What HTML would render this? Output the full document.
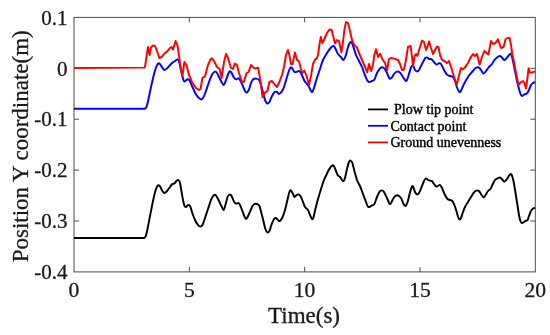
<!DOCTYPE html>
<html><head><meta charset="utf-8"><title>Plot</title>
<style>
html,body{margin:0;padding:0;background:#fff;}
svg{display:block;font-family:"Liberation Serif","Times New Roman",serif;}
</style></head><body>
<svg width="550" height="335" viewBox="0 0 550 335">
<rect width="550" height="335" fill="#fff"/>
<g stroke="#4d4d4d" stroke-width="1" fill="none">
<rect x="74.0" y="17.4" width="461.29999999999995" height="254.49999999999997"/>
<line x1="189.32" y1="271.9" x2="189.32" y2="266.9"/><line x1="189.32" y1="17.4" x2="189.32" y2="22.4"/><line x1="304.65" y1="271.9" x2="304.65" y2="266.9"/><line x1="304.65" y1="17.4" x2="304.65" y2="22.4"/><line x1="419.97" y1="271.9" x2="419.97" y2="266.9"/><line x1="419.97" y1="17.4" x2="419.97" y2="22.4"/><line x1="74.0" y1="68.30" x2="79.0" y2="68.30"/><line x1="535.3" y1="68.30" x2="530.3" y2="68.30"/><line x1="74.0" y1="119.20" x2="79.0" y2="119.20"/><line x1="535.3" y1="119.20" x2="530.3" y2="119.20"/><line x1="74.0" y1="170.10" x2="79.0" y2="170.10"/><line x1="535.3" y1="170.10" x2="530.3" y2="170.10"/><line x1="74.0" y1="221.00" x2="79.0" y2="221.00"/><line x1="535.3" y1="221.00" x2="530.3" y2="221.00"/>
</g>
<g fill="none" stroke-width="1.95" stroke-linejoin="round" stroke-linecap="butt">
<path stroke="#000" d="M74.0,238.0L144.2,238.0C144.4,237.8 145.0,237.6 145.4,236.8C145.8,236.1 146.2,234.7 146.5,233.5C146.8,232.3 146.8,232.2 147.4,229.5C148.0,226.8 148.9,221.4 149.8,217.0C150.7,212.6 151.7,207.3 152.6,203.0C153.5,198.7 154.6,193.8 155.4,191.0C156.2,188.2 156.8,186.9 157.4,186.0C158.0,185.1 158.5,185.1 159.0,185.3C159.5,185.5 159.8,186.1 160.4,187.0C161.0,187.9 161.7,190.0 162.4,191.0C163.1,192.0 163.6,193.0 164.4,193.0C165.2,193.0 166.1,192.0 167.0,191.0C167.9,190.0 169.1,188.2 170.0,187.0C170.9,185.8 171.7,184.6 172.4,184.0C173.1,183.4 173.7,183.9 174.4,183.4C175.1,182.9 175.7,181.6 176.4,181.0C177.1,180.4 177.8,179.7 178.4,180.0C179.0,180.3 179.5,181.0 180.0,183.0C180.5,185.0 181.1,189.2 181.6,192.0C182.1,194.8 182.5,197.7 183.0,200.0C183.5,202.3 183.9,204.4 184.4,205.6C184.9,206.8 185.4,207.1 186.0,207.0C186.6,206.9 187.3,205.2 188.0,205.0C188.7,204.8 189.3,204.8 190.0,206.0C190.7,207.2 191.2,209.7 192.0,212.0C192.8,214.3 194.0,217.8 195.0,220.0C196.0,222.2 197.1,223.9 198.0,225.0C198.9,226.1 199.9,226.6 200.6,226.6C201.3,226.6 201.7,226.4 202.4,225.0C203.1,223.6 204.1,220.7 205.0,218.0C205.9,215.3 207.0,212.0 208.0,209.0C209.0,206.0 210.1,202.3 211.0,200.0C211.9,197.7 212.8,196.2 213.6,195.4C214.4,194.6 214.9,194.4 215.6,195.0C216.3,195.6 217.1,197.3 218.0,199.0C218.9,200.7 220.1,203.2 221.0,205.0C221.9,206.8 222.9,210.0 223.6,210.0C224.3,210.0 224.7,207.2 225.4,205.0C226.1,202.8 226.9,198.7 227.6,197.0C228.3,195.3 228.9,194.8 229.6,194.6C230.3,194.4 230.9,194.8 231.6,196.0C232.3,197.2 233.3,200.3 234.0,201.6C234.7,202.9 235.3,203.4 236.0,203.6C236.7,203.8 237.7,202.8 238.4,203.0C239.1,203.2 239.3,203.7 240.0,205.0C240.7,206.3 241.6,208.9 242.4,211.0C243.2,213.1 244.3,216.3 245.0,217.6C245.7,218.9 245.9,219.2 246.6,218.6C247.3,218.0 248.1,215.9 249.0,214.0C249.9,212.1 251.1,208.7 252.0,207.0C252.9,205.3 253.8,204.5 254.6,204.0C255.4,203.5 256.2,203.7 257.0,204.0C257.8,204.3 258.7,204.5 259.4,206.0C260.1,207.5 260.7,210.5 261.4,213.0C262.1,215.5 262.7,218.3 263.4,221.0C264.1,223.7 264.7,227.1 265.4,229.0C266.1,230.9 266.7,232.1 267.4,232.4C268.1,232.7 268.7,232.2 269.4,231.0C270.1,229.8 270.6,227.0 271.4,225.0C272.2,223.0 273.2,220.2 274.0,219.0C274.8,217.8 275.3,217.8 276.0,218.0C276.7,218.2 277.3,219.5 278.0,220.0C278.7,220.5 279.2,221.5 280.0,221.0C280.8,220.5 281.8,218.8 282.6,217.0C283.4,215.2 284.2,212.8 285.0,210.0C285.8,207.2 286.7,203.0 287.4,200.0C288.1,197.0 288.8,193.6 289.4,192.0C290.0,190.4 290.4,190.1 291.0,190.4C291.6,190.7 292.4,192.9 293.0,194.0C293.6,195.1 294.0,196.8 294.6,197.0C295.2,197.2 295.9,195.4 296.6,195.0C297.3,194.6 298.3,194.3 299.0,194.6C299.7,194.9 300.3,195.8 301.0,197.0C301.7,198.2 302.3,200.3 303.0,202.0C303.7,203.7 304.2,205.7 305.0,207.0C305.8,208.3 307.2,208.7 308.0,210.0C308.8,211.3 309.3,213.5 310.0,215.0C310.7,216.5 311.4,218.6 312.0,219.0C312.6,219.4 312.8,219.3 313.4,217.6C314.0,215.9 314.6,212.1 315.4,209.0C316.2,205.9 317.1,202.3 318.0,199.0C318.9,195.7 320.0,192.2 321.0,189.0C322.0,185.8 323.0,182.6 324.0,180.0C325.0,177.4 326.2,175.3 327.0,173.6C327.8,171.9 328.2,170.9 329.0,169.6C329.8,168.3 330.8,166.7 331.6,166.0C332.4,165.3 332.9,164.9 333.6,165.6C334.3,166.3 334.9,168.4 335.6,170.0C336.3,171.6 336.9,173.8 337.6,175.0C338.3,176.2 339.3,176.2 340.0,177.0C340.7,177.8 341.4,179.3 342.0,180.0C342.6,180.7 343.1,181.3 343.6,181.0C344.1,180.7 344.4,180.0 345.0,178.0C345.6,176.0 346.3,171.7 347.0,169.0C347.7,166.3 348.4,163.4 349.0,162.0C349.6,160.6 350.0,160.4 350.6,160.6C351.2,160.8 351.8,161.3 352.4,163.0C353.0,164.7 353.6,168.2 354.4,171.0C355.2,173.8 356.1,177.5 357.0,180.0C357.9,182.5 359.0,183.7 360.0,186.0C361.0,188.3 362.0,191.3 363.0,194.0C364.0,196.7 365.2,199.9 366.0,202.0C366.8,204.1 367.4,205.8 368.0,206.6C368.6,207.4 368.9,207.2 369.6,207.0C370.3,206.8 371.2,205.9 372.0,205.4C372.8,204.9 373.6,205.4 374.4,204.0C375.2,202.6 376.1,199.1 377.0,197.0C377.9,194.9 378.8,192.7 379.6,191.6C380.4,190.5 381.3,190.3 382.0,190.4C382.7,190.5 383.2,190.7 384.0,192.0C384.8,193.3 386.1,196.1 387.0,198.0C387.9,199.9 388.7,202.8 389.4,203.6C390.1,204.4 390.3,203.9 391.0,203.0C391.7,202.1 392.8,199.2 393.6,198.0C394.4,196.8 395.2,196.0 396.0,195.6C396.8,195.2 397.6,195.2 398.4,195.6C399.2,196.0 400.1,196.6 401.0,198.0C401.9,199.4 402.8,202.7 403.6,204.0C404.4,205.3 404.9,206.3 405.6,206.0C406.3,205.7 406.9,204.0 407.6,202.0C408.3,200.0 408.9,196.4 409.6,194.0C410.3,191.6 411.0,188.7 411.6,187.4C412.2,186.1 412.4,185.6 413.0,186.4C413.6,187.2 414.3,190.7 415.0,192.0C415.7,193.3 416.3,194.2 417.0,194.4C417.7,194.6 418.2,194.2 419.0,193.0C419.8,191.8 420.8,189.0 421.6,187.0C422.4,185.0 423.3,182.4 424.0,181.0C424.7,179.6 425.3,178.6 426.0,178.4C426.7,178.2 427.3,179.6 428.0,180.0C428.7,180.4 429.3,180.4 430.0,180.6C430.7,180.8 431.3,180.4 432.0,181.0C432.7,181.6 433.3,183.1 434.0,184.0C434.7,184.9 435.7,186.3 436.4,186.6C437.1,186.9 437.8,185.9 438.4,185.6C439.0,185.3 439.4,184.6 440.0,185.0C440.6,185.4 441.2,186.3 442.0,188.0C442.8,189.7 444.1,193.2 445.0,195.0C445.9,196.8 446.8,198.2 447.6,199.0C448.4,199.8 449.2,199.7 450.0,200.0C450.8,200.3 451.7,200.2 452.4,201.0C453.1,201.8 453.7,203.3 454.4,205.0C455.1,206.7 455.7,208.8 456.4,211.0C457.1,213.2 457.9,216.6 458.4,218.0C458.9,219.4 459.2,219.4 459.6,219.4C460.0,219.4 460.4,219.2 461.0,218.0C461.6,216.8 462.3,213.8 463.0,212.0C463.7,210.2 464.2,208.7 465.0,207.0C465.8,205.3 467.0,203.7 468.0,202.0C469.0,200.3 470.0,198.6 471.0,197.0C472.0,195.4 473.1,193.5 474.0,192.4C474.9,191.3 475.6,190.8 476.4,190.6C477.2,190.4 478.2,190.4 479.0,191.0C479.8,191.6 480.2,192.9 481.0,194.0C481.8,195.1 482.8,197.2 483.6,197.4C484.4,197.6 484.9,196.1 485.6,195.0C486.3,193.9 487.2,192.0 488.0,191.0C488.8,190.0 489.7,190.0 490.4,189.0C491.1,188.0 491.6,186.5 492.4,185.0C493.2,183.5 494.1,181.1 495.0,180.0C495.9,178.9 496.8,178.8 497.6,178.4C498.4,178.0 499.3,177.3 500.0,177.4C500.7,177.5 501.3,178.5 502.0,179.2C502.7,179.9 503.6,181.6 504.4,181.6C505.2,181.6 506.1,180.1 507.0,179.0C507.9,177.9 508.9,175.8 509.6,175.0C510.3,174.2 510.8,173.7 511.4,174.4C512.0,175.1 512.5,177.1 513.0,179.0C513.5,180.9 513.9,183.2 514.4,186.0C514.9,188.8 515.5,192.7 516.0,196.0C516.5,199.3 517.1,202.8 517.6,206.0C518.1,209.2 518.5,212.5 519.0,215.0C519.5,217.5 519.9,219.7 520.4,221.0C520.9,222.3 521.4,222.8 522.0,223.0C522.6,223.2 523.3,222.4 524.0,222.0C524.7,221.6 525.4,220.9 526.0,220.6C526.6,220.3 527.1,220.8 527.6,220.0C528.1,219.2 528.4,217.5 529.0,216.0C529.6,214.5 530.3,212.2 531.0,211.0C531.7,209.8 532.3,209.2 533.0,208.6C533.7,208.0 534.7,207.8 535.0,207.6"/>
<path stroke="#0000ff" d="M74.0,108.8L145.0,108.8C145.2,108.5 146.0,108.0 146.4,107.0C146.8,106.0 146.9,105.8 147.6,103.0C148.3,100.2 149.4,94.7 150.4,90.0C151.4,85.3 152.8,79.0 153.8,75.0C154.8,71.0 155.8,68.0 156.6,66.0C157.4,64.0 158.1,63.4 158.8,63.2C159.5,63.0 159.9,64.1 160.6,65.0C161.3,65.9 162.2,67.6 162.8,68.4C163.4,69.2 163.7,70.0 164.4,70.0C165.1,70.0 165.7,69.6 167.0,68.4C168.3,67.2 170.7,64.2 172.0,63.0C173.3,61.8 174.1,61.6 175.0,61.0C175.9,60.4 176.7,59.3 177.4,59.4C178.1,59.5 178.4,59.7 179.0,61.5C179.6,63.3 180.3,67.2 181.0,70.0C181.7,72.8 182.4,76.6 183.0,78.5C183.6,80.4 183.7,81.5 184.4,81.6C185.1,81.7 186.6,79.4 187.4,79.2C188.2,79.0 188.7,79.3 189.5,80.4C190.3,81.5 191.1,84.0 192.0,86.0C192.9,88.0 194.0,90.6 195.0,92.5C196.0,94.4 197.0,96.0 198.0,97.2C199.0,98.4 200.2,99.3 201.0,99.4C201.8,99.5 202.2,99.2 203.0,98.0C203.8,96.8 204.6,94.7 205.6,92.0C206.6,89.3 207.9,85.0 209.0,82.0C210.1,79.0 211.4,75.7 212.4,74.0C213.4,72.3 214.2,71.8 215.0,71.6C215.8,71.4 216.2,71.8 217.0,73.0C217.8,74.2 218.9,77.0 220.0,79.0C221.1,81.0 222.6,84.8 223.6,85.0C224.6,85.2 225.1,82.1 226.0,80.0C226.9,77.9 228.2,73.5 229.0,72.2C229.8,70.9 230.2,71.2 231.0,72.0C231.8,72.8 232.8,75.8 233.6,77.0C234.4,78.2 235.1,79.2 236.0,79.4C236.9,79.6 238.0,77.6 239.0,78.4C240.0,79.2 241.0,81.9 242.0,84.0C243.0,86.1 244.2,89.6 245.0,91.0C245.8,92.4 246.1,92.8 246.8,92.6C247.5,92.3 248.3,91.1 249.0,89.5C249.7,87.9 250.3,84.7 251.0,83.0C251.7,81.3 252.2,80.3 253.0,79.6C253.8,78.9 255.0,78.5 256.0,78.6C257.0,78.7 258.1,78.8 259.0,80.0C259.9,81.2 260.7,83.7 261.4,86.0C262.1,88.3 262.7,91.5 263.4,94.0C264.1,96.5 264.7,99.4 265.4,101.0C266.1,102.6 266.9,103.4 267.6,103.6C268.3,103.8 268.7,103.3 269.4,102.0C270.1,100.7 271.1,97.7 272.0,96.0C272.9,94.3 273.8,92.7 274.6,92.0C275.4,91.3 276.3,91.7 277.0,92.0C277.7,92.3 278.3,94.0 279.0,94.0C279.7,94.0 280.6,93.2 281.4,92.0C282.2,90.8 283.1,89.5 284.0,87.0C284.9,84.5 286.2,79.8 287.0,77.0C287.8,74.2 288.4,72.1 289.0,70.5C289.6,68.9 290.1,67.8 290.6,67.4C291.1,67.0 291.3,67.2 292.0,68.0C292.7,68.8 293.8,71.4 294.6,72.0C295.4,72.6 296.3,71.8 297.0,71.6C297.7,71.4 298.3,70.8 299.0,71.0C299.7,71.2 300.2,71.5 301.0,73.0C301.8,74.5 303.2,78.3 304.0,80.0C304.8,81.7 305.2,82.0 306.0,83.0C306.8,84.0 307.8,84.7 308.6,86.0C309.4,87.3 310.4,90.0 311.0,91.0C311.6,92.0 311.9,92.3 312.4,91.8C312.9,91.3 313.3,90.1 314.0,88.0C314.7,85.9 315.6,82.2 316.6,79.0C317.6,75.8 318.9,72.2 320.0,69.0C321.1,65.8 321.8,62.7 323.0,60.0C324.2,57.3 325.7,55.1 327.0,53.0C328.3,50.9 329.9,48.7 331.0,47.5C332.1,46.3 332.8,45.8 333.6,46.0C334.4,46.2 334.9,47.7 335.6,49.0C336.3,50.3 337.1,52.7 338.0,54.0C338.9,55.3 340.1,56.0 341.0,57.0C341.9,58.0 342.6,60.2 343.4,60.0C344.2,59.8 344.8,58.2 345.6,56.0C346.4,53.8 347.3,49.2 348.0,47.0C348.7,44.8 349.4,43.4 350.0,42.6C350.6,41.8 351.1,41.7 351.6,42.2C352.1,42.7 352.3,43.5 353.0,45.6C353.7,47.7 355.0,52.4 356.0,55.0C357.0,57.6 358.0,59.0 359.0,61.0C360.0,63.0 361.1,64.8 362.0,67.0C362.9,69.2 363.7,71.8 364.5,74.0C365.3,76.2 366.2,78.7 367.0,80.0C367.8,81.3 368.2,81.8 369.0,82.0C369.8,82.2 371.1,81.4 372.0,81.0C372.9,80.6 373.6,80.8 374.4,79.5C375.2,78.2 376.1,74.8 377.0,73.0C377.9,71.2 379.2,69.4 380.0,68.4C380.8,67.4 381.2,67.2 382.0,67.2C382.8,67.2 383.8,67.6 384.6,68.6C385.4,69.6 386.2,71.4 387.0,73.0C387.8,74.6 388.7,77.6 389.4,78.4C390.1,79.2 390.6,78.7 391.4,78.0C392.2,77.3 393.1,75.1 394.0,74.0C394.9,72.9 396.0,71.8 397.0,71.6C398.0,71.4 399.0,71.7 400.0,72.6C401.0,73.5 402.1,75.7 403.0,77.0C403.9,78.3 404.7,80.1 405.4,80.6C406.1,81.1 406.4,81.1 407.0,80.0C407.6,78.9 408.3,76.1 409.0,74.0C409.7,71.9 410.3,68.9 411.0,67.5C411.7,66.1 412.3,65.0 413.0,65.4C413.7,65.8 414.3,69.0 415.0,70.0C415.7,71.0 416.3,71.4 417.0,71.4C417.7,71.4 418.2,71.2 419.0,70.0C419.8,68.8 421.0,65.9 422.0,64.0C423.0,62.1 424.2,59.5 425.0,58.4C425.8,57.3 426.3,57.3 427.0,57.4C427.7,57.5 428.3,58.7 429.0,59.0C429.7,59.3 430.6,58.7 431.4,59.2C432.2,59.7 433.1,61.1 434.0,62.0C434.9,62.9 435.8,64.4 436.6,64.6C437.4,64.8 438.3,63.3 439.0,63.2C439.7,63.1 440.2,62.9 441.0,64.0C441.8,65.1 443.0,68.2 444.0,70.0C445.0,71.8 446.0,73.6 447.0,74.6C448.0,75.6 449.0,75.6 450.0,76.0C451.0,76.4 452.2,76.2 453.0,77.0C453.8,77.8 454.3,79.2 455.0,81.0C455.7,82.8 456.3,85.7 457.0,87.5C457.7,89.3 458.7,91.5 459.4,92.0C460.1,92.5 460.2,91.9 461.0,90.6C461.8,89.3 462.8,86.3 464.0,84.0C465.2,81.7 466.7,79.0 468.0,77.0C469.3,75.0 470.7,73.5 472.0,72.0C473.3,70.5 474.4,68.7 475.6,68.0C476.8,67.3 478.0,67.1 479.0,67.6C480.0,68.1 480.8,70.0 481.6,71.0C482.4,72.0 482.9,73.6 483.6,73.6C484.3,73.6 485.1,72.1 486.0,71.0C486.9,69.9 488.0,68.2 489.0,67.0C490.0,65.8 491.1,65.2 492.0,64.0C492.9,62.8 493.6,61.1 494.4,60.0C495.2,58.9 496.1,58.1 497.0,57.4C497.9,56.7 499.1,55.9 500.0,56.0C500.9,56.1 501.7,57.3 502.4,58.0C503.1,58.7 503.6,60.1 504.4,60.0C505.2,59.9 506.1,58.6 507.0,57.6C507.9,56.6 509.3,54.4 510.0,54.0C510.7,53.6 510.9,53.8 511.4,55.0C511.9,56.2 512.4,58.3 513.0,61.0C513.6,63.7 514.3,67.7 515.0,71.0C515.7,74.3 516.3,78.0 517.0,81.0C517.7,84.0 518.4,86.8 519.0,89.0C519.6,91.2 520.1,92.8 520.6,94.0C521.1,95.2 521.4,95.9 522.0,96.0C522.6,96.1 523.2,95.0 524.0,94.6C524.8,94.2 526.2,94.2 527.0,93.4C527.8,92.6 528.3,91.4 529.0,90.0C529.7,88.6 530.3,86.2 531.0,85.0C531.7,83.8 532.3,83.5 533.0,83.0C533.7,82.5 534.7,82.2 535.0,82.0"/>
<polyline stroke="#ff0000" points="74.0,68.0 144.4,67.6 145.2,66.0 146.0,60.0 148.0,47.0 149.6,55.0 151.0,47.5 153.0,45.4 155.0,46.0 157.0,51.0 159.4,58.0 161.6,57.0 164.0,54.0 167.0,51.6 170.0,48.0 171.6,47.0 173.0,49.6 175.6,41.0 177.6,46.0 179.0,56.0 181.0,70.0 182.4,76.4 184.4,62.0 186.4,65.0 189.0,75.0 192.0,82.0 196.0,88.0 199.0,90.0 200.6,89.0 202.4,78.0 205.0,76.4 208.0,65.0 210.4,59.6 212.0,58.4 214.0,61.0 217.0,67.0 219.6,69.0 221.6,78.0 224.0,62.0 226.0,54.0 228.0,58.0 231.0,68.0 233.0,69.0 235.0,63.6 237.0,65.0 239.0,73.0 242.0,82.4 244.0,81.6 246.6,73.0 248.6,72.0 251.0,65.0 253.4,67.6 255.4,68.6 258.0,67.6 260.0,78.0 262.6,97.0 264.0,94.0 265.0,92.6 267.4,91.0 269.4,82.0 272.0,81.0 275.0,85.0 277.0,87.0 279.4,82.0 282.0,75.0 284.0,67.0 286.0,55.0 288.0,50.0 289.4,55.0 291.0,64.0 292.6,64.0 295.0,52.4 297.0,60.0 299.0,61.6 301.0,69.0 302.4,73.0 304.4,70.6 306.6,76.0 309.0,85.0 311.0,76.0 313.0,64.0 315.0,59.6 316.6,58.6 318.0,55.0 319.4,45.0 320.8,37.0 322.4,43.0 324.4,39.0 327.0,33.0 329.6,29.4 331.6,30.0 333.6,38.0 335.0,43.6 337.0,40.0 339.0,41.0 341.4,52.6 343.0,42.0 344.4,30.0 346.0,22.0 348.0,23.0 350.0,31.0 352.0,40.0 354.4,45.6 357.0,47.6 359.0,53.0 362.0,60.0 365.0,67.0 367.2,72.4 369.0,64.0 371.2,71.0 373.0,64.5 374.4,55.0 376.0,49.2 378.0,57.0 380.2,53.8 382.2,59.0 385.0,63.0 387.0,70.5 389.0,59.0 391.0,58.0 394.0,58.6 398.0,60.0 400.0,64.0 402.0,70.0 403.8,69.8 405.8,61.0 408.0,47.0 410.6,46.0 412.0,57.0 413.0,66.0 414.6,56.0 416.0,54.0 417.4,56.0 419.4,49.0 422.0,40.6 424.0,42.0 426.0,50.0 427.4,47.0 429.0,41.4 431.0,48.0 433.0,54.0 435.0,50.0 437.0,46.6 438.6,47.4 440.0,55.0 442.0,59.6 445.0,61.6 447.0,63.2 449.0,61.0 451.0,67.0 453.5,75.0 456.6,85.0 458.4,78.0 461.0,68.0 463.0,69.4 465.0,67.4 468.0,63.0 471.0,57.0 473.0,54.0 475.0,56.0 477.0,54.0 479.6,64.6 482.0,57.0 484.4,51.0 486.4,53.0 488.4,54.6 491.0,41.0 493.0,44.0 495.6,43.0 498.0,39.4 499.6,44.0 501.0,48.0 503.6,47.0 505.6,39.0 507.6,38.0 509.6,38.0 511.0,45.0 512.4,55.0 514.4,64.0 516.4,75.0 518.4,85.0 521.0,82.0 523.0,81.0 524.4,83.0 526.0,88.5 527.6,77.0 528.6,68.3 530.0,72.6 532.0,72.6 535.0,71.4"/>
</g>
<g fill="#1a1a1a" stroke="#1a1a1a" stroke-width="0.3">
<text x="74.0" y="297.2" text-anchor="middle" font-size="21.6">0</text><text x="189.3" y="297.2" text-anchor="middle" font-size="21.6">5</text><text x="304.6" y="297.2" text-anchor="middle" font-size="21.6">10</text><text x="420.0" y="297.2" text-anchor="middle" font-size="21.6">15</text><text x="535.3" y="297.2" text-anchor="middle" font-size="21.6">20</text><text x="67.4" y="24.6" text-anchor="end" font-size="21">0.1</text><text x="67.4" y="75.5" text-anchor="end" font-size="21">0</text><text x="67.4" y="126.4" text-anchor="end" font-size="21">-0.1</text><text x="67.4" y="177.3" text-anchor="end" font-size="21">-0.2</text><text x="67.4" y="228.2" text-anchor="end" font-size="21">-0.3</text><text x="67.4" y="279.1" text-anchor="end" font-size="21">-0.4</text>
<text x="304" y="323.4" text-anchor="middle" font-size="23">Time(s)</text>
<text transform="translate(27.5,146.3) rotate(-90)" text-anchor="middle" font-size="23">Position Y coordinate(m)</text>
</g>
<g stroke-width="1.8">
<line x1="368" y1="109.4" x2="388" y2="109.4" stroke="#000"/>
<line x1="368" y1="125.8" x2="388" y2="125.8" stroke="#0000ff"/>
<line x1="368" y1="142.4" x2="388" y2="142.4" stroke="#ff0000"/>
</g>
<g fill="#000" font-size="14" stroke="#000" stroke-width="0.4">
<text x="394" y="113.8">Plow tip point</text>
<text x="390.5" y="130.5">Contact point</text>
<text x="390.5" y="146.8">Ground unevenness</text>
</g>
</svg>
</body></html>
